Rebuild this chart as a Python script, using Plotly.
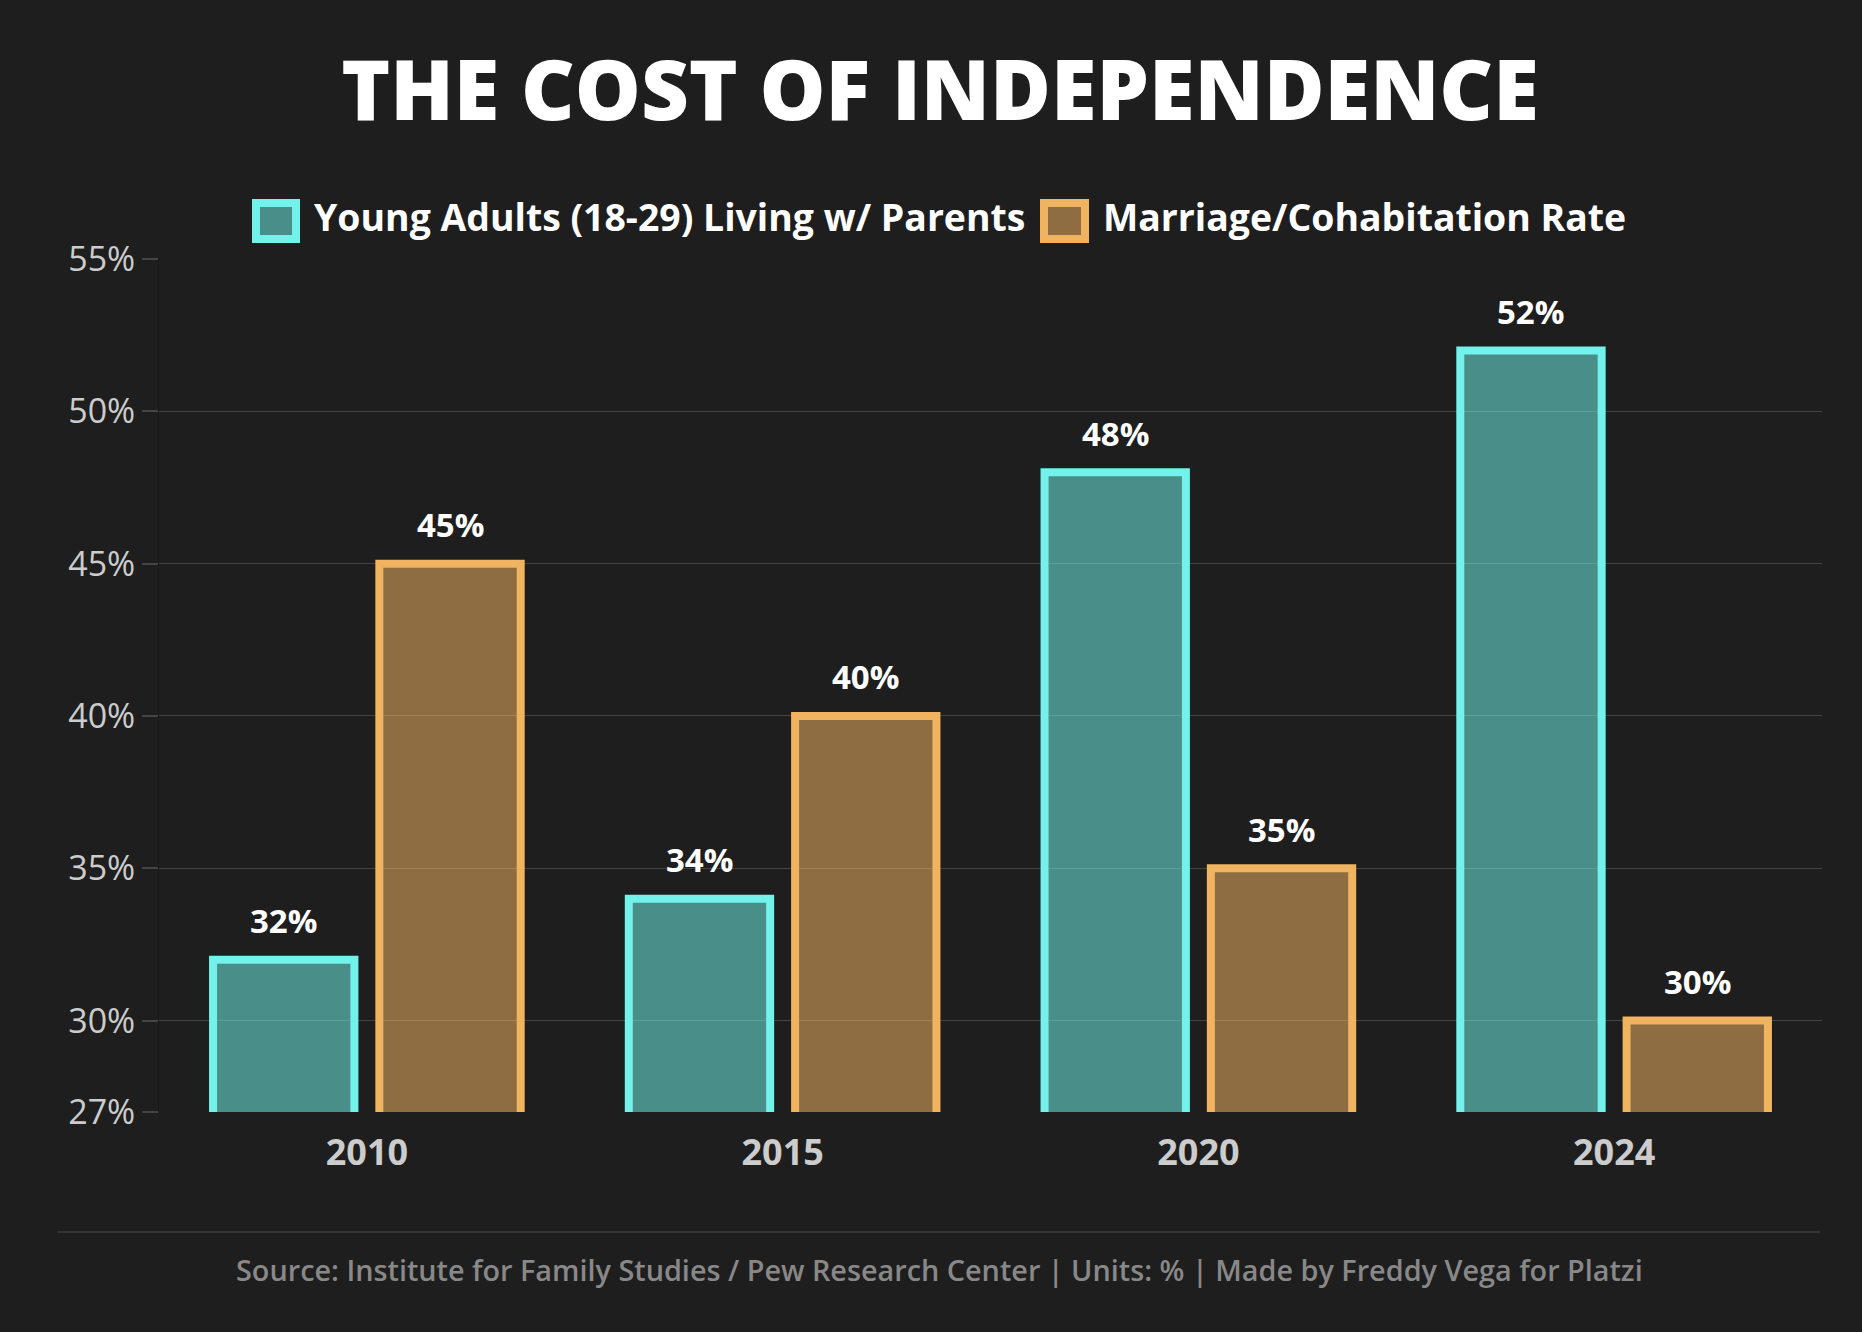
import plotly.graph_objects as go

# ---------------- data ----------------
years = ["2010", "2015", "2020", "2024"]
living_with_parents = [32, 34, 48, 52]
marriage_rate = [45, 40, 35, 30]
series_names = ["Young Adults (18-29) Living w/ Parents", "Marriage/Cohabitation Rate"]
y_tick_values = [27, 30, 35, 40, 45, 50, 55]
y_tick_labels = ["27%", "30%", "35%", "40%", "45%", "50%", "55%"]
title_text = "THE COST OF INDEPENDENCE"
footer_text = "Source: Institute for Family Studies / Pew Research Center | Units: % | Made by Freddy Vega for Platzi"

# ---------------- layout constants ----------------
W, H = 1862, 1332
ML, MR, MT, MB = 159, 40, 259, 220
PW = W - ML - MR
PH = H - MT - MB
BARGAP = 0.2
BARGROUPGAP = 0.15

BG = "#1E1E1E"
GRID = "#444444"
TEAL_LINE = "#72F2EA"
TEAL_FILL = "rgba(114,242,234,0.53)"
ORANGE_LINE = "#F0B460"
ORANGE_FILL = "rgba(240,180,96,0.53)"
FONT = "Open Sans"


def px_x(px):
    return (px - ML) / PW


def px_y(py):
    return (H - MB - py) / PH


series = [
    (series_names[0], living_with_parents, TEAL_LINE, TEAL_FILL),
    (series_names[1], marriage_rate, ORANGE_LINE, ORANGE_FILL),
]

fig = go.Figure()
for name, vals, line_c, fill_c in series:
    fig.add_trace(go.Bar(
        x=years, y=vals, name=name,
        marker=dict(color=fill_c, line=dict(color=line_c, width=8)),
        showlegend=False,
        hovertemplate="%{x}: %{y}%<extra>" + name + "</extra>",
    ))

annotations = []
# value labels above bars (category axis: annotation x is the category index)
slot_offset = PW / len(years) * (1 - BARGAP) / 4
for si, (name, vals, line_c, fill_c) in enumerate(series):
    shift = -slot_offset if si == 0 else slot_offset
    for ci, v in enumerate(vals):
        annotations.append(dict(
            x=ci, y=v, xref="x", yref="y", text=f"<b>{v}%</b>",
            showarrow=False, xshift=shift, yshift=39, yanchor="middle",
            font=dict(family=FONT, size=33, color="#FFFFFF"),
        ))

# custom legend (large swatches)
legend_items = [
    (series_names[0], TEAL_LINE, TEAL_FILL, 256, 296, 312),
    (series_names[1], ORANGE_LINE, ORANGE_FILL, 1044, 1085, 1101),
]
shapes = []
for name, line_c, fill_c, x0, x1, tx in legend_items:
    shapes.append(dict(
        type="rect", xref="paper", yref="paper",
        x0=px_x(x0), x1=px_x(x1), y0=px_y(239), y1=px_y(203),
        fillcolor=fill_c, line=dict(color=line_c, width=8), layer="above",
    ))
    annotations.append(dict(
        x=px_x(tx), y=px_y(217), xref="paper", yref="paper",
        xanchor="left", yanchor="middle", showarrow=False,
        text=f"<b>{name}</b>",
        font=dict(family=FONT, size=37.4, color="#FFFFFF"),
    ))

# footer separator and source text
shapes.append(dict(
    type="line", xref="paper", yref="paper",
    x0=px_x(58), x1=px_x(1820), y0=px_y(1232), y1=px_y(1232),
    line=dict(color="#343434", width=2),
))
annotations.append(dict(
    x=px_x(939), y=px_y(1269), xref="paper", yref="paper",
    xanchor="center", yanchor="middle", showarrow=False,
    text=footer_text,
    font=dict(family=FONT, size=28.8, color="#888888", weight=600),
))

fig.update_layout(
    width=W, height=H,
    margin=dict(l=ML, r=MR, t=MT, b=MB, pad=0),
    paper_bgcolor=BG, plot_bgcolor=BG,
    barmode="group", bargap=BARGAP, bargroupgap=BARGROUPGAP,
    showlegend=False,
    title=dict(
        text=title_text, x=940 / W, xref="container", xanchor="center",
        y=1 - 91 / H, yref="container", yanchor="middle",
        font=dict(family=FONT, size=83, color="#FFFFFF", weight=800),
    ),
    xaxis=dict(
        type="category", showgrid=False, zeroline=False, showline=False,
        ticks="", tickfont=dict(family=FONT, size=36, color="#CCCCCC", weight="bold"),
        ticklabelstandoff=16,
    ),
    yaxis=dict(
        range=[27, 55], tickvals=y_tick_values, ticktext=y_tick_labels,
        showgrid=True, gridcolor=GRID, gridwidth=1, zeroline=False,
        showline=True, linecolor="#1A1A1A", linewidth=1,
        ticks="outside", ticklen=16, tickcolor=GRID, tickwidth=1.5,
        tickfont=dict(family=FONT, size=34, color="#CCCCCC"),
    ),
    annotations=annotations,
    shapes=shapes,
    font=dict(family=FONT, color="#CCCCCC"),
)

fig.write_html("out.html")
